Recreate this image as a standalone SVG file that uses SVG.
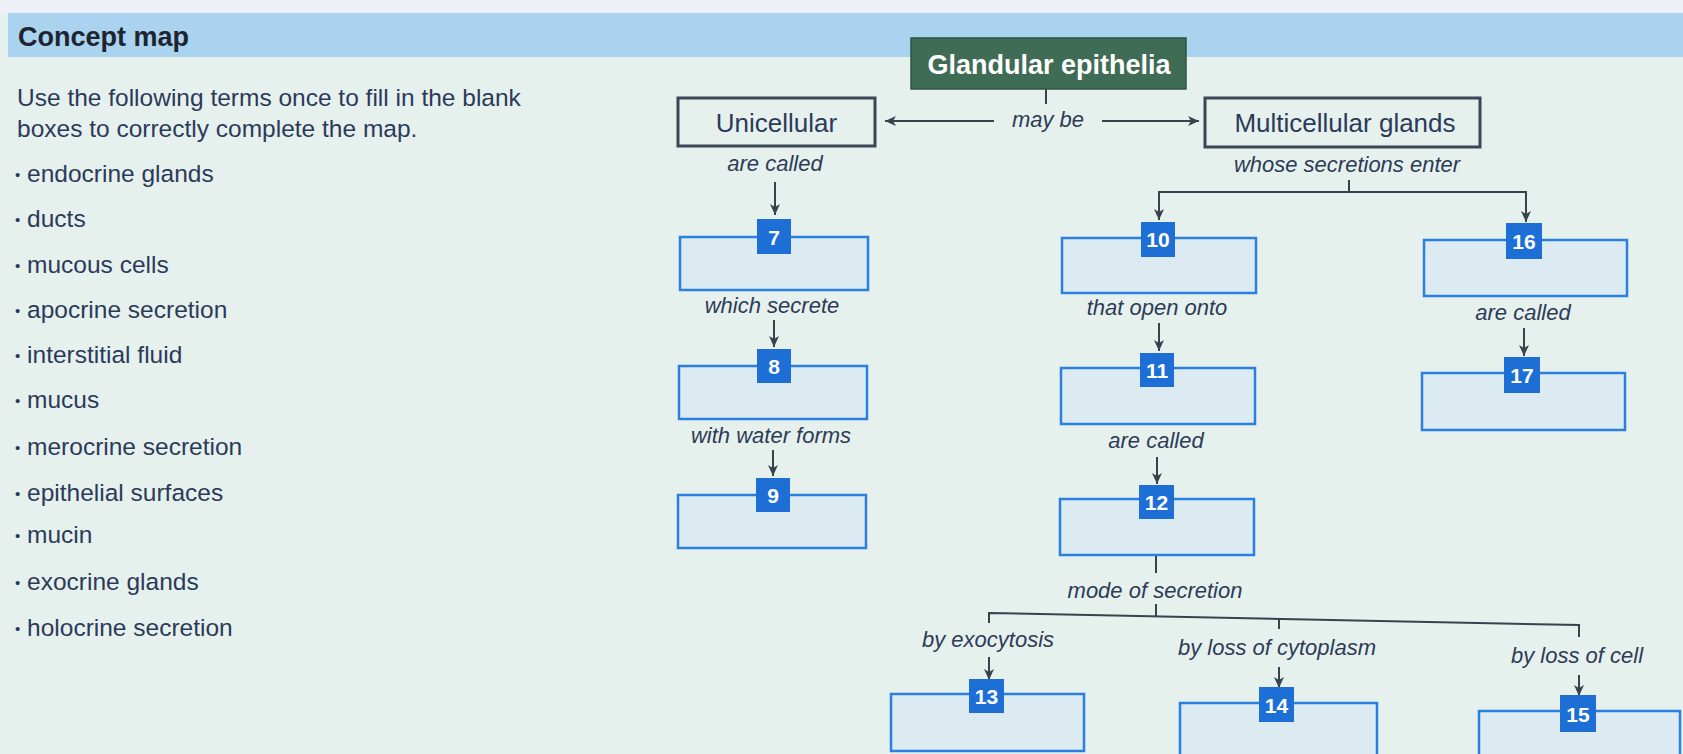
<svg xmlns="http://www.w3.org/2000/svg" width="1683" height="754" viewBox="0 0 1683 754">
<style>
  .bg { fill: #e6f1ee; }
  .band { fill: #a9d3ee; }
  .title { font-family: "Liberation Sans", Arial, sans-serif; font-weight: bold; font-size: 27px; fill: #1e2430; }
  .body { font-family: "Liberation Sans", Arial, sans-serif; font-size: 24.5px; fill: #2c3a5a; }
  .bul { font-size: 15px; }
  .lbl { font-family: "Liberation Sans", Arial, sans-serif; font-style: italic; font-size: 22px; fill: #2d3b57; text-anchor: middle; }
  .head rect { fill: #3f6c55; stroke: #2f5542; stroke-width: 1.5; }
  .head text { font-family: "Liberation Sans", Arial, sans-serif; font-weight: bold; font-size: 27px; fill: #ffffff; text-anchor: middle; }
  .cat rect { fill: none; stroke: #3b4657; stroke-width: 3; }
  .cat text { font-family: "Liberation Sans", Arial, sans-serif; font-size: 26px; fill: #2c3a5a; text-anchor: middle; }
  .blank rect.b { fill: #d3e6f4; fill-opacity: 0.55; stroke: #2b7fe0; stroke-width: 2.5; }
  .blank rect.n { fill: #1d6fd6; }
  .blank text { font-family: "Liberation Sans", Arial, sans-serif; font-weight: bold; font-size: 21px; fill: #ffffff; text-anchor: middle; }
  .conn line, .conn polyline { stroke: #37424f; stroke-width: 2; fill: none; }
  .conn .arr { marker-end: url(#ah); }
</style>
<defs>
  <marker id="ah" markerUnits="userSpaceOnUse" markerWidth="12" markerHeight="12" refX="11" refY="5" orient="auto">
    <path d="M0,0 L11,5 L0,10 L3,5 z" fill="#37424f"/>
  </marker>
</defs>

<rect class="bg" x="0" y="0" width="1683" height="754"/>
<rect x="0" y="0" width="1683" height="13" fill="#eef0f8"/>
<rect class="band" x="8" y="13" width="1675" height="44"/>

<text class="title" x="18" y="46">Concept map</text>

<g id="instructions">
  <text class="body" x="17" y="106">Use the following terms once to fill in the blank</text>
  <text class="body" x="17" y="137">boxes to correctly complete the map.</text>
</g>

<g id="terms">
  <text class="body" x="15" y="182"><tspan class="bul" dy="-2">•</tspan><tspan dy="2"> endocrine glands</tspan></text>
  <text class="body" x="15" y="227"><tspan class="bul" dy="-2">•</tspan><tspan dy="2"> ducts</tspan></text>
  <text class="body" x="15" y="273"><tspan class="bul" dy="-2">•</tspan><tspan dy="2"> mucous cells</tspan></text>
  <text class="body" x="15" y="318"><tspan class="bul" dy="-2">•</tspan><tspan dy="2"> apocrine secretion</tspan></text>
  <text class="body" x="15" y="363"><tspan class="bul" dy="-2">•</tspan><tspan dy="2"> interstitial fluid</tspan></text>
  <text class="body" x="15" y="408"><tspan class="bul" dy="-2">•</tspan><tspan dy="2"> mucus</tspan></text>
  <text class="body" x="15" y="455"><tspan class="bul" dy="-2">•</tspan><tspan dy="2"> merocrine secretion</tspan></text>
  <text class="body" x="15" y="501"><tspan class="bul" dy="-2">•</tspan><tspan dy="2"> epithelial surfaces</tspan></text>
  <text class="body" x="15" y="543"><tspan class="bul" dy="-2">•</tspan><tspan dy="2"> mucin</tspan></text>
  <text class="body" x="15" y="590"><tspan class="bul" dy="-2">•</tspan><tspan dy="2"> exocrine glands</tspan></text>
  <text class="body" x="15" y="636"><tspan class="bul" dy="-2">•</tspan><tspan dy="2"> holocrine secretion</tspan></text>
</g>

<g id="connectors" class="conn">
  <line x1="1046" y1="89" x2="1046" y2="104"/>
  <line class="arr" x1="994" y1="121" x2="885" y2="121"/>
  <line class="arr" x1="1102" y1="121" x2="1199" y2="121"/>
  <line class="arr" x1="775" y1="182" x2="775" y2="215"/>
  <line class="arr" x1="774" y1="320" x2="774" y2="347"/>
  <line class="arr" x1="773" y1="450" x2="773" y2="476"/>
  <line x1="1349" y1="180" x2="1349" y2="192"/>
  <line x1="1159" y1="192" x2="1526" y2="192"/>
  <line class="arr" x1="1159" y1="191" x2="1159" y2="220"/>
  <line class="arr" x1="1526" y1="191" x2="1526" y2="222"/>
  <line class="arr" x1="1159" y1="323" x2="1159" y2="351"/>
  <line class="arr" x1="1157" y1="457" x2="1157" y2="484"/>
  <line class="arr" x1="1524" y1="328" x2="1524" y2="356"/>
  <line x1="1156" y1="555" x2="1156" y2="573"/>
  <line x1="1156" y1="604" x2="1156" y2="616"/>
  <polyline points="989,623 989,613 1579,625 1579,637"/>
  <line x1="1279" y1="619" x2="1279" y2="629"/>
  <line class="arr" x1="989" y1="657" x2="989" y2="680"/>
  <line class="arr" x1="1279" y1="667" x2="1279" y2="688"/>
  <line class="arr" x1="1579" y1="675" x2="1579" y2="696"/>
</g>

<g id="labels">
  <text class="lbl" x="1048" y="127">may be</text>
  <text class="lbl" x="775" y="171">are called</text>
  <text class="lbl" x="772" y="313">which secrete</text>
  <text class="lbl" x="771" y="443">with water forms</text>
  <text class="lbl" x="1347" y="172">whose secretions enter</text>
  <text class="lbl" x="1157" y="315">that open onto</text>
  <text class="lbl" x="1156" y="448">are called</text>
  <text class="lbl" x="1523" y="320">are called</text>
  <text class="lbl" x="1155" y="598">mode of secretion</text>
  <text class="lbl" x="988" y="647">by exocytosis</text>
  <text class="lbl" x="1277" y="655">by loss of cytoplasm</text>
  <text class="lbl" x="1577" y="663">by loss of cell</text>
</g>

<g id="glandular-epithelia" class="head">
  <rect x="911" y="38" width="275" height="51"/>
  <text x="1049" y="74">Glandular epithelia</text>
</g>

<g id="unicellular" class="cat">
  <rect x="678" y="98" width="197" height="48"/>
  <text x="776.5" y="132">Unicellular</text>
</g>

<g id="multicellular" class="cat">
  <rect x="1205" y="98" width="275" height="49"/>
  <text x="1345" y="132" font-size="27">Multicellular glands</text>
</g>

<g id="box7" class="blank">
  <rect class="b" x="680" y="237" width="188" height="53"/>
  <rect class="n" x="757" y="219" width="34" height="35"/>
  <text x="774" y="245">7</text>
</g>
<g id="box8" class="blank">
  <rect class="b" x="679" y="366" width="188" height="53"/>
  <rect class="n" x="757" y="349" width="34" height="34"/>
  <text x="774" y="374">8</text>
</g>
<g id="box9" class="blank">
  <rect class="b" x="678" y="495" width="188" height="53"/>
  <rect class="n" x="756" y="478" width="34" height="34"/>
  <text x="773" y="503">9</text>
</g>
<g id="box10" class="blank">
  <rect class="b" x="1062" y="238" width="194" height="55"/>
  <rect class="n" x="1141" y="222" width="34" height="35"/>
  <text x="1158" y="247">10</text>
</g>
<g id="box11" class="blank">
  <rect class="b" x="1061" y="368" width="194" height="56"/>
  <rect class="n" x="1140" y="353" width="34" height="34"/>
  <text x="1157" y="378">11</text>
</g>
<g id="box12" class="blank">
  <rect class="b" x="1060" y="499" width="194" height="56"/>
  <rect class="n" x="1139" y="485" width="35" height="34"/>
  <text x="1156.5" y="510">12</text>
</g>
<g id="box16" class="blank">
  <rect class="b" x="1424" y="240" width="203" height="56"/>
  <rect class="n" x="1506" y="223" width="36" height="36"/>
  <text x="1524" y="249">16</text>
</g>
<g id="box17" class="blank">
  <rect class="b" x="1422" y="373" width="203" height="57"/>
  <rect class="n" x="1504" y="357" width="36" height="36"/>
  <text x="1522" y="383">17</text>
</g>
<g id="box13" class="blank">
  <rect class="b" x="891" y="694" width="193" height="57"/>
  <rect class="n" x="969" y="679" width="35" height="34"/>
  <text x="986.5" y="704">13</text>
</g>
<g id="box14" class="blank">
  <rect class="b" x="1180" y="703" width="197" height="60"/>
  <rect class="n" x="1259" y="687" width="35" height="35"/>
  <text x="1276.5" y="713">14</text>
</g>
<g id="box15" class="blank">
  <rect class="b" x="1479" y="711" width="201" height="60"/>
  <rect class="n" x="1560" y="695" width="36" height="37"/>
  <text x="1578" y="722">15</text>
</g>
</svg>
